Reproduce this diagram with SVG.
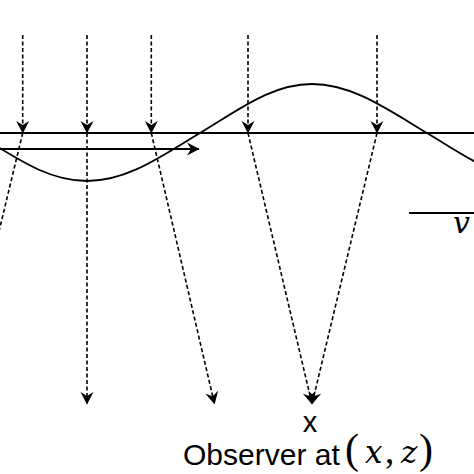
<svg xmlns="http://www.w3.org/2000/svg" width="474" height="474" viewBox="0 0 474 474">
<style>
.solid{stroke:#000;stroke-width:1.8;fill:none}
.ray{stroke:#000;stroke-width:1.6;fill:none;stroke-dasharray:4 2.5}
.sans{font-family:"Liberation Sans",Arial,sans-serif;fill:#000}
.math{font-family:"Liberation Serif","Times New Roman",serif;fill:#000}
.mi{font-family:"DejaVu Serif","Liberation Serif",serif;font-style:italic;fill:#000}
</style>
<defs>
<marker id="ah" viewBox="-13 -7 14 14" refX="0" refY="0" markerWidth="14" markerHeight="14" markerUnits="userSpaceOnUse" orient="auto">
<path d="M0.5,0 L-12,-6.5 L-8,0 L-12,6.5 Z" fill="#000"/>
</marker>
</defs>
<rect width="474" height="474" fill="#fff"/>
<g id="surface">
<line class="solid" x1="0" y1="133" x2="474" y2="133"/>
<path class="solid" d="M-25,133 C15,157 47,181 87,181 C127,181 160,157 200,133 C240,109 272,84 312,84 C352,84 387,109 427,133 C467,157 499,181 539,181"/>
</g>
<g id="flow-arrow">
<line class="solid" x1="0" y1="149" x2="199" y2="149" marker-end="url(#ah)"/>
</g>
<g id="rays">
<line class="ray" x1="22.7" y1="35" x2="22.7" y2="133" marker-end="url(#ah)"/>
<line class="ray" x1="87" y1="35" x2="87" y2="133" marker-end="url(#ah)"/>
<line class="ray" x1="151.3" y1="35" x2="151.3" y2="133" marker-end="url(#ah)"/>
<line class="ray" x1="248" y1="35" x2="248" y2="133" marker-end="url(#ah)"/>
<line class="ray" x1="377" y1="35" x2="377" y2="133" marker-end="url(#ah)"/>
<line class="ray" x1="22.7" y1="133" x2="-6" y2="252"/>
<line class="ray" x1="87" y1="133" x2="87" y2="404" marker-end="url(#ah)"/>
<line class="ray" x1="151.3" y1="133" x2="214.5" y2="404" marker-end="url(#ah)"/>
<line class="ray" x1="248" y1="133" x2="312" y2="404" marker-end="url(#ah)"/>
<line class="ray" x1="377" y1="133" x2="312" y2="404" marker-end="url(#ah)"/>
</g>
<g id="velocity">
<line class="solid" x1="409" y1="213" x2="474" y2="213"/>
<text class="mi" x="453" y="233" font-size="30">v</text>
</g>
<g id="observer">
<text class="sans" x="310" y="432" font-size="29" text-anchor="middle">x</text>
<text class="sans" x="183" y="465" font-size="30">Observer at</text>
<text class="math" x="345" y="463" font-size="42">(</text>
<text class="mi" x="365" y="463" font-size="31">x</text>
<text class="math" x="385" y="463" font-size="37">,</text>
<text class="mi" x="401" y="463" font-size="31">z</text>
<text class="math" x="419" y="463" font-size="42">)</text>
</g>
</svg>
